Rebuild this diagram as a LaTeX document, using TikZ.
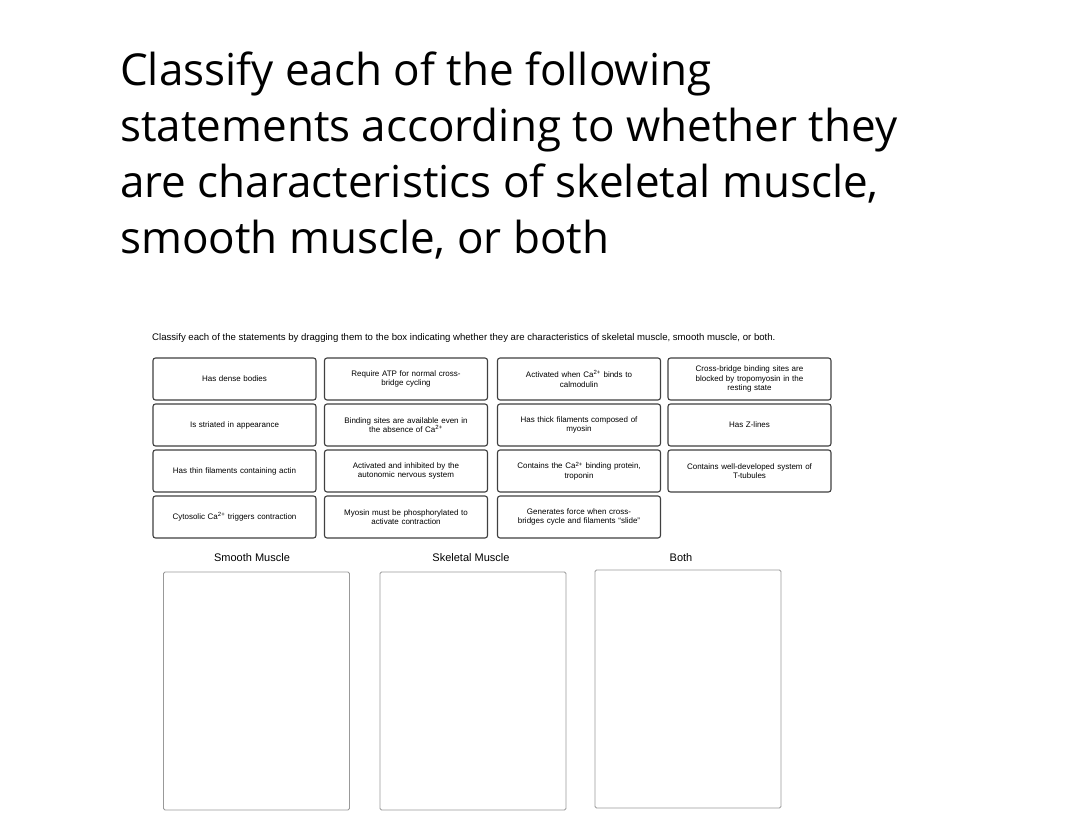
\documentclass[tikz,border=0pt]{standalone}
\usepackage{fontspec}
\setmainfont{Liberation Sans}
\newfontfamily\titlefont{Open Sans}
\begin{document}
\begin{tikzpicture}[x=1pt,y=-1pt,
  card/.style={draw=black!75,line width=1.1pt,rounded corners=2.5pt,fill=white,minimum width=163pt,minimum height=42pt,align=center,text width=150pt,font=\fontsize{8}{9.5}\selectfont,inner sep=1pt},
  bin/.style={draw=black!40,line width=0.8pt,rounded corners=1.5pt,fill=white,minimum width=186pt,minimum height=238pt},
  binlabel/.style={font=\fontsize{11}{13}\selectfont},
  tline/.style={anchor=base west,font=\titlefont\fontsize{44}{50}\selectfont,inner sep=0pt}]
\useasboundingbox (0,0) rectangle (1080,832);
\fill[white] (0,0) rectangle (1080,832);
\node[tline] (t1) at (120,86) {Classify each of the following};
\node[tline] (t2) at (120,142) {statements according to whether they};
\node[tline] (t3) at (120,198) {are characteristics of skeletal muscle,};
\node[tline] (t4) at (120,254) {smooth muscle, or both};
\node[anchor=base west,inner sep=0pt,font=\fontsize{9.6}{11}\selectfont] (instr) at (152,340) {Classify each of the statements by dragging them to the box indicating whether they are characteristics of skeletal muscle, smooth muscle, or both.};
\def\Ca{Ca\textsuperscript{2+}}
\node[card] (a1) at (234.5,379) {Has dense bodies};
\node[card] (a2) at (234.5,425) {Is striated in appearance};
\node[card] (a3) at (234.5,471) {Has thin filaments containing actin};
\node[card] (a4) at (234.5,517) {Cytosolic \Ca{} triggers contraction};
\node[card] (b1) at (406,379) {Require ATP for normal cross-\\bridge cycling};
\node[card] (b2) at (406,425) {Binding sites are available even in\\the absence of \Ca};
\node[card] (b3) at (406,471) {Activated and inhibited by the\\autonomic nervous system};
\node[card] (b4) at (406,517) {Myosin must be phosphorylated to\\activate contraction};
\node[card] (c1) at (579,379) {Activated when \Ca{} binds to\\calmodulin};
\node[card] (c2) at (579,425) {Has thick filaments composed of\\myosin};
\node[card] (c3) at (579,471) {Contains the \Ca{} binding protein,\\troponin};
\node[card] (c4) at (579,517) {Generates force when cross-\\bridges cycle and filaments ``slide''};
\node[card] (d1) at (749.5,379) {Cross-bridge binding sites are\\blocked by tropomyosin in the\\resting state};
\node[card] (d2) at (749.5,425) {Has Z-lines};
\node[card] (d3) at (749.5,471) {Contains well-developed system of\\T-tubules};
\node[binlabel] (l1) at (252,558) {Smooth Muscle};
\node[binlabel] (l2) at (471,558) {Skeletal Muscle};
\node[binlabel] (l3) at (681,558) {Both};
\node[bin] (s1) at (256.5,691) {};
\node[bin] (s2) at (473,691) {};
\node[bin] (s3) at (688,689) {};
\end{tikzpicture}
\end{document}
